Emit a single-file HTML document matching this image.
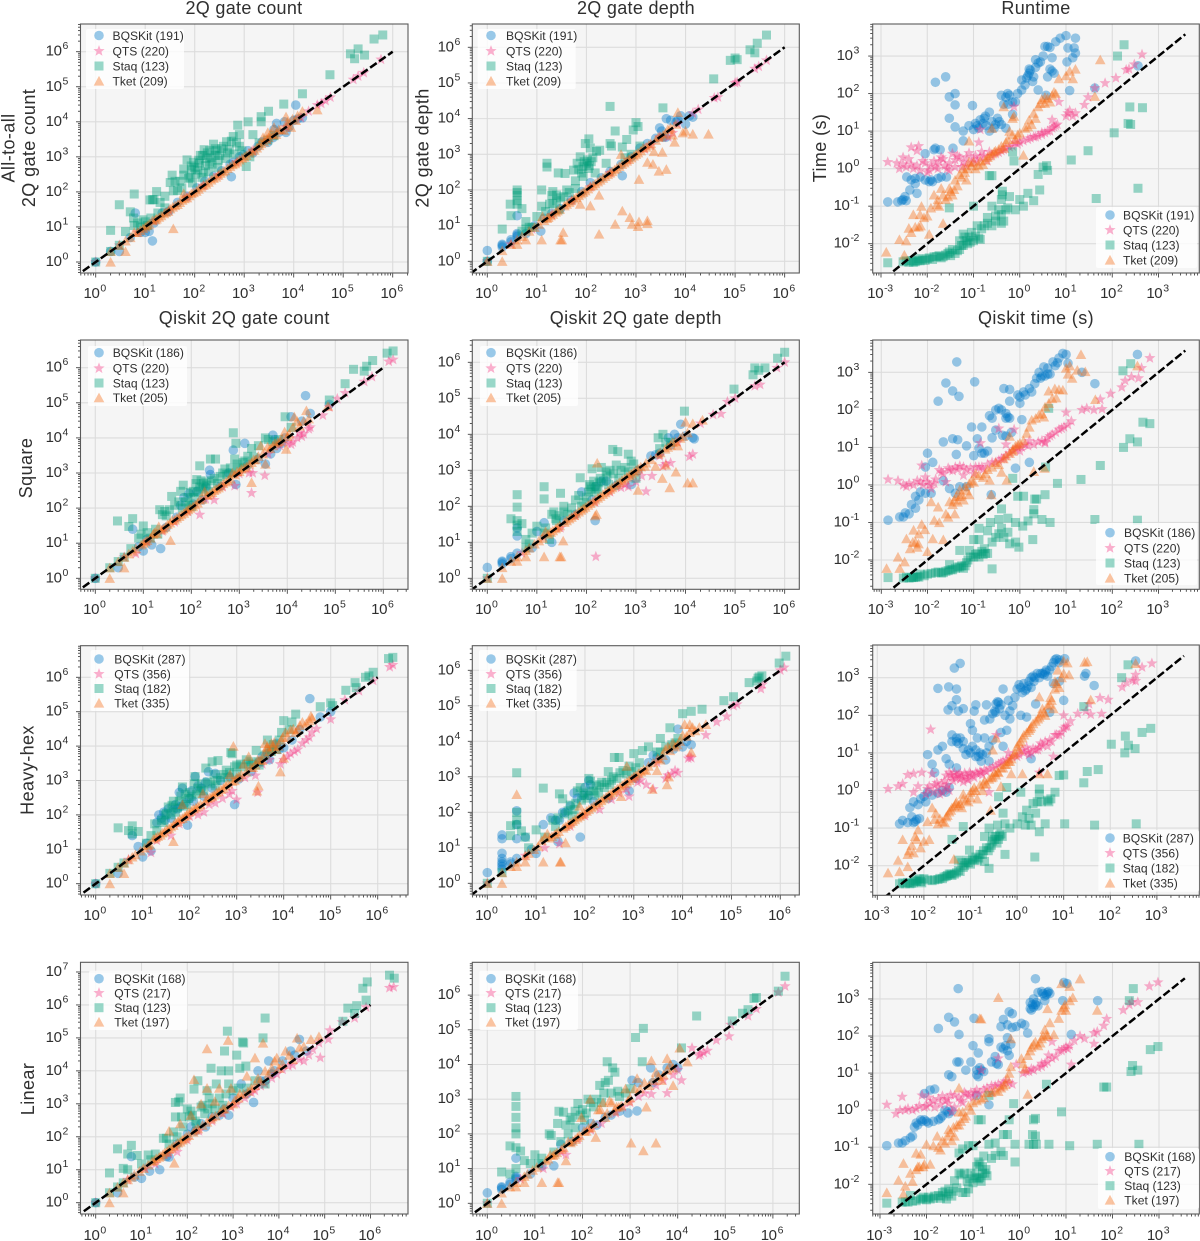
<!DOCTYPE html>
<html lang="en">
<head>
<meta charset="utf-8">
<title>Compiler benchmark scatter grid</title>
<style>
html,body{margin:0;padding:0;background:#fff;}
svg{display:block;font-family:"Liberation Sans",sans-serif;}
</style>
</head>
<body>
<svg id="figure" width="1200" height="1241" viewBox="0 0 1200 1241" xmlns="http://www.w3.org/2000/svg"></svg>
<script>
const seriesNames = ["BQSKit","QTS","Staq","Tket"];
const countExps = [0,1,2,3,4,5,6];
const countExpsY7 = [0,1,2,3,4,5,6,7];
const timeXExps = [-3,-2,-1,0,1,2,3];
const timeYExps = [-2,-1,0,1,2,3];
const legendAll = [191,220,123,209];
const legendSquare = [186,220,123,205];
const legendHex = [287,356,182,335];
const legendLinear = [168,217,123,197];

/* ---------- All-to-all 2Q gate count ---------- */
const allCountBq = [[1,1],[2,2],[3,2],[5,5],[6.3,25],[8,7],[10,7],[12,7.5],[14,4],[15,13],[22,25],[30,28],[45,50],[70,75],[110,130],[160,200],[240,280],[350,400],[550,270],[520,620],[800,1000],[1200,1500],[1900,2000],[3000,2600],[4500,9000],[5000,5000],[6500,10000],[8000,7000],[10000,11000],[11000,30000],[15000,13000],[600,700],[950,1150],[1500,1300],[2300,2700],[3800,3500],[4000,6000],[7000,5000],[12000,12000]];
const allCountQts = [[1,1],[3,3],[7,7],[15,15],[30,30],[70,70],[150,150],[300,300],[700,700],[1500,1500],[3000,3000],[7000,7000],[14000,13000],[20000,20000],[30000,30000],[36000,33000],[44000,40000],[55000,50000],[160000,160000],[200000,200000],[260000,250000],[580000,600000]];
const allCountStaq = [[1,1],[2,2],[2,8],[3,3],[3,43],[4,7.4],[5,27],[5.8,18],[6,87],[6,11],[8,10],[9,16],[10,14],[12.5,59],[14,60],[17,102],[20,50],[25,75],[32,185],[35,300],[37,107],[45,110],[50,200],[60,450],[70,820],[87,430],[60,300],[80,260],[100,500],[120,800],[130,1100],[155,1600],[170,900],[200,700],[240,2300],[260,1100],[300,800],[350,1700],[440,2700],[500,1600],[600,3800],[700,2500],[740,8000],[800,4300],[900,1500],[1100,530],[1200,10000],[1500,4300],[2200,14000],[2200,10000],[3100,20000],[6300,32000],[15000,63000],[54000,220000],[140000,870000],[170000,630000],[200000,1200000],[270000,800000],[420000,2300000],[630000,3000000],[40,200],[55,130],[75,240],[85,550],[90,180],[105,320],[115,420],[125,650],[140,260],[145,1100],[165,560],[180,1300],[190,380],[215,950],[225,620],[280,1500],[290,500],[320,1100],[380,2000],[420,900],[460,1300],[550,2800],[620,1200],[800,2000],[15,60],[25,35],[18,25],[7,13],[11,11],[13,18],[1300,1000],[2000,2500],[3000,3000],[4000,4000],[150,350],[95,700],[200,1500],[260,1700]];
const allCountTket = [[2,1],[2,2],[3,3],[4,2],[4,4],[5,5],[6,7],[7,7],[9,9],[11,11],[14,15],[17,17],[21,21],[26,26],[32,33],[37,9],[40,41],[50,50],[60,90],[62,64],[78,78],[95,96],[120,120],[150,155],[190,190],[240,245],[300,300],[370,375],[460,470],[580,600],[720,720],[900,920],[1100,1100],[1400,1450],[1800,1800],[2200,2400],[2800,3200],[3500,4500],[4400,4400],[5500,6000],[7000,14000],[7500,8000],[8800,7000],[11000,11000],[15000,20000],[30000,22000],[8,8],[10,10],[12,12],[16,16],[19,19],[24,24],[29,28],[36,37],[45,44],[56,58],[70,68],[86,90],[108,105],[135,138],[170,168],[215,220],[270,265],[330,340],[410,405],[520,530],[650,640],[800,820],[1000,990],[1250,1300],[1600,1550],[2000,2100],[2500,2700],[3100,3600],[3900,4200],[5000,6000],[6300,5800],[7500,10000],[9500,12000],[12000,15000],[3000,5000],[4000,7000],[2400,3600]];

/* ---------- All-to-all 2Q gate depth ---------- */
const allDepthBq = [[1,2],[1,1],[2,3],[2,2.5],[3,4],[4,6],[4,19],[4,5],[6,6],[9,10],[12,7],[14,16],[20,22],[30,30],[50,52],[80,90],[120,160],[200,220],[300,330],[530,250],[500,520],[800,850],[1200,1500],[1700,2000],[2500,2800],[3300,4500],[4100,10000],[4000,3000],[6500,8000],[8000,12000],[14000,11000],[10000,7000],[2,2.8],[3,3.5],[4,5.5],[3000,5500],[3500,3000],[5000,9000],[7000,9000],[12000,12000]];
const allDepthQts = [[1,1],[3,3],[8,8],[20,20],[50,50],[120,120],[300,300],[700,700],[1500,1400],[3000,3000],[7000,7000],[14000,14000],[18000,18000],[38000,38000],[45000,40000],[100000,100000],[110000,105000],[250000,250000],[300000,290000],[430000,430000],[4500,3000],[5500,4000],[2000,1800]];
const allDepthStaq = [[1,1],[2,8],[2.9,40],[3,19],[4,100],[4,70],[4,50],[4,40],[5,30],[6,13],[7,9],[10,18],[12.5,35],[12.5,100],[16,560],[16,440],[21,90],[21,42],[25,72],[27,300],[30,60],[37,290],[40,100],[55,360],[60,180],[65,560],[75,850],[86,240],[95,2000],[100,560],[110,400],[112,2700],[120,1500],[150,300],[185,1300],[250,560],[300,2000],[300,22000],[320,1700],[380,4500],[530,1600],[650,2600],[880,4800],[1000,7700],[1100,6000],[1200,1700],[3500,20000],[37000,130000],[80000,430000],[100000,500000],[110000,450000],[200000,850000],[250000,700000],[280000,1300000],[430000,2200000],[85,450],[90,620],[105,700],[115,480],[125,620],[70,380],[80,300],[135,800],[160,1200],[60,110],[45,85],[35,65],[25,50],[18,40],[15,25],[28,28],[600,800],[800,1000],[6,8],[8,9],[5,7],[4,85],[20,70]];
const allDepthTket = [[1,1],[2,1],[2,2],[3,3],[4,3],[4,4],[5,5],[6,4],[7,7],[9,9],[11,11],[12.5,4],[13,18],[17,17],[21,21],[26,26],[30,4],[32,4],[34,6.5],[40,40],[50,50],[62,62],[75,40],[78,78],[95,95],[120,36],[120,125],[150,150],[180,72],[180,5.8],[190,190],[240,240],[300,300],[380,11],[370,370],[460,460],[530,26],[500,1000],[580,580],[750,17],[720,720],[830,11],[900,900],[1100,9.5],[1150,13],[1150,200],[1100,1100],[1400,1500],[1700,14],[1700,11.5],[1700,600],[1800,1800],[2200,530],[2300,1200],[2800,3000],[2900,340],[3400,1150],[3500,3500],[4100,380],[4400,5000],[5500,3500],[6000,2200],[7000,15000],[8800,4000],[10000,4500],[14000,3700],[29000,3700],[14,14],[16,16],[19,19],[24,24],[29,29],[36,36],[45,45],[56,56],[70,70],[86,86],[108,108],[135,135],[170,170],[215,215],[270,270],[330,330],[410,410],[520,520],[650,650],[800,800],[1000,1000],[1250,1250],[1600,1600],[2000,2000],[2500,2500],[3100,3100],[3900,3800],[5000,5500],[6300,7000]];

/* ---------- All-to-all runtime ---------- */
const allTimeBq = [[.0014,.13],[.0023,.13],[.003,.15],[.0033,.18],[.0042,.27],[.006,.22],[.0055,.4],[.0036,.6],[.0055,.55],[.009,.5],[.012,.5],[.009,2.5],[.015,3.5],[.019,3.2],[.017,.55],[.026,.6],[.036,3.5],[.015,200],[.025,280],[.03,82],[.04,100],[.04,50],[.03,22],[.04,13],[.06,10],[.1,11],[.095,48],[.06,5.5],[.11,16],[.14,20],[.22,32],[.16,16],[.3,15],[.22,10],[.4,15],[.4,90],[.6,90],[.9,100],[.56,52],[.7,28],[.45,52],[.36,18],[1.1,125],[1.4,260],[1.7,420],[1.1,230],[1.9,210],[2.5,650],[3.2,1000],[5,900],[4,1800],[6,2400],[7.5,3000],[10,3500],[16,3000],[15,1650],[11,1650],[16,1200],[14,900],[10.5,700],[5,400],[4,280],[2.5,125],[3.7,90],[12,120],[42,140],[360,550],[.12,14],[.18,25],[.5,12],[.8,60],[1.6,350],[2.2,500],[.0028,.14],[.0035,.14],[.0045,.5],[.007,.6],[.011,.45],[.02,.6],[.014,3.2],[.013,.45],[.08,14],[.13,12],[.17,22],[.19,14],[.25,18],[.28,12],[.33,22],[.5,80],[.7,60],[.55,100],[1.3,170],[1.5,300],[1.6,450],[2,280],[2.2,800],[2.8,700],[3.5,1800],[4.5,1700],[4.5,450],[5.5,350]];
const allTimeQts = [[.0014,1.5],[.0022,1.4],[.0025,1],[.003,2],[.0035,1.1],[.0045,1.3],[.0045,3.7],[.006,3],[.0065,4],[.005,1],[.007,.9],[.008,1.6],[.01,.8],[.012,1.2],[.014,1.6],[.017,1],[.02,2],[.024,1.2],[.03,1.4],[.035,2.5],[.04,1.1],[.05,2],[.06,1.5],[.08,2.6],[.1,1.8],[.13,5],[.14,2],[.2,1.6],[.25,2.2],[.3,2.5],[.4,3],[.5,3.5],[.7,4],[1,5],[1.5,6],[2,7],[3,8],[4,10],[5,12],[6,14],[5,20],[7,60],[.75,45],[.14,11],[10,25],[12,35],[16,30],[25,50],[30,80],[42,140],[70,190],[120,260],[200,430],[230,450],[300,600],[440,1100],[.03,.9],[.07,1.2],[.15,2.8],[.9,4.5],[2.5,7.5],[3.5,9],[.003,1.3],[.004,1.8],[.006,1.2],[.009,1.4],[.011,.9],[.015,1.1],[.018,1.5],[.022,1.8],[.027,1],[.04,1.7],[.045,2.2],[.055,1.1],[.07,2],[.09,1.4],[.11,2.2],[.12,1.5],[.17,2.2],[.22,2.8],[.35,2.7],[.45,3.2],[.6,3.8],[.8,5],[1.2,5.5],[1.7,6.5],[2.2,7],[3,9],[4.5,10],[5.5,13],[6.5,15],[11,30],[14,25]];
const allTimeStaq = [[.0014,.0031],[.003,.0033],[.004,.0032],[.005,.0032],[.006,.0035],[.007,.0035],[.008,.0037],[.01,.004],[.013,.0038],[.016,.0045],[.02,.0042],[.025,.005],[.03,.006],[.04,.0055],[.05,.007],[.06,.009],[.07,.012],[.05,.012],[.06,.018],[.08,.015],[.1,.012],[.13,.014],[.15,.025],[.12,.03],[.09,.02],[.2,.035],[.25,.03],[.3,.04],[.4,.035],[.1,.1],[.03,.09],[.2,.05],[.25,.1],[.35,.08],[.4,.15],[.42,.25],[.5,.08],[.8,.08],[1,.15],[1.2,.1],[1.5,.22],[2,.14],[2.7,.27],[.22,.65],[.25,.65],[.6,.18],[.7,2.8],[.75,1.6],[2.5,.7],[3.2,1.1],[3.8,1.2],[4,.9],[13,1.7],[30,3],[110,9],[220,16],[250,15],[240,44],[450,42],[45,.16],[360,.3],[130,1000],[180,2000],[.0035,.0035],[.0045,.0035],[.0055,.0033],[.0065,.004],[.009,.0036],[.011,.0042],[.014,.0045],[.018,.0048],[.022,.0045],[.028,.0055],[.032,.0048],[.035,.007],[.045,.0065],[.055,.009],[.065,.015],[.075,.01],[.085,.011],[.11,.016],[.14,.013],[.17,.03],[.3,.055],[.45,.04],[.4,.06],[.55,.09],[.42,.2]];
const allTimeTket = [[.0013,.006],[.0025,.013],[.0032,.005],[.0035,.012],[.004,.026],[.0055,.028],[.005,.06],[.007,.06],[.0072,.03],[.0075,.1],[.01,.055],[.011,.018],[.022,.035],[.014,.2],[.017,.15],[.012,.09],[.018,.1],[.02,.3],[.025,.15],[.03,.3],[.035,.2],[.04,.5],[.05,.7],[.06,1],[.07,.5],[.08,1.5],[.1,1.5],[.13,1.2],[.16,1.3],[.2,2],[.25,2.5],[.3,3],[.4,4],[.5,5],[.6,10],[.7,8],[.9,8],[.7,22],[1.2,2.3],[1.3,12],[1.8,15],[2,30],[2.5,45],[3,70],[4,75],[5,90],[6,100],[7,250],[10,300],[12,400],[14,250],[16,450],[42,85],[55,800],[.45,45],[.75,25],[.25,12],[.08,5.5],[1.6,20],[3.5,55],[.0045,.02],[.0065,.028],[.0085,.05],[.016,.11],[.022,.2],[.028,.18],[.032,.25],[.038,.28],[.045,.35],[.055,.6],[.065,.8],[.075,1],[.09,1.2],[.11,1],[.14,1.6],[.18,1.7],[.22,2.2],[.28,2.8],[.35,3.3],[.45,3.5],[.55,6],[.8,6],[1,9],[1.5,13],[2.2,22],[2.8,55],[3.5,80],[4.5,60],[5.5,110]];

/* ---------- Square 2Q gate count ---------- */
const sqCountBq = [[1,1],[3,2],[6,25],[8,8],[10,6],[12,13],[15,9],[23,7],[30,28],[50,55],[70,200],[110,130],[170,170],[240,1200],[250,900],[400,420],[750,4500],[850,470],[1300,7000],[1500,1700],[2500,2500],[3500,1800],[5000,12000],[6000,5000],[9000,10000],[12000,40000],[20000,30000],[24000,160000],[30000,50000],[75000,90000],[4500,3500],[5500,9000],[7500,7000],[90,260],[60,120],[130,300],[200,400],[600,1000]];
const sqCountQts = [[1,1],[4,4],[7,5],[12,11],[25,22],[45,40],[85,80],[150,65],[200,180],[300,170],[450,400],[800,430],[1000,950],[1600,1000],[1800,270],[1900,1000],[3400,850],[4000,3500],[7000,6000],[10000,7000],[13000,7500],[18000,14000],[22000,13000],[30000,20000],[55000,44000],[75000,75000],[110000,130000],[160000,190000],[400000,400000],[580000,550000],[1300000,1500000],[1600000,1700000],[12000,6500],[20000,11000],[28000,18000],[16000,10000]];
const sqCountStaq = [[1,1],[2,2],[2.9,43],[3,3],[4,4],[5,30],[5.5,7],[6,50],[8,14],[9,18],[10,31],[14,14],[20,18],[22,90],[25,65],[30,60],[39,215],[45,120],[60,300],[68,450],[75,150],[95,280],[100,110],[130,650],[150,1600],[150,400],[200,550],[250,2500],[300,700],[320,2500],[450,1000],[500,1300],[750,14000],[800,2500],[850,7000],[1000,1400],[1500,3000],[1800,5000],[3500,10000],[5000,8000],[9000,40000],[12000,20000],[75000,120000],[160000,350000],[240000,900000],[400000,800000],[450000,1100000],[600000,1600000],[1200000,2600000],[1600000,3000000],[55,150],[65,100],[85,200],[90,120],[110,300],[115,200],[125,500],[140,280],[160,600],[170,350],[180,500],[210,450],[230,300],[260,600],[350,500],[400,800],[550,900],[650,1400],[700,1000],[900,1800],[1200,2000],[1300,2200],[2000,2800],[2500,6000],[4000,9000],[6500,9000],[35,90],[28,80],[18,25],[12,20]];
const sqCountTket = [[2,1],[2,2],[3,3],[4,2],[4,4],[5,5],[6,6],[7,7],[9,9],[11,11],[14,14],[17,20],[21,30],[26,26],[32,34],[37,12],[40,45],[50,52],[62,65],[78,82],[95,100],[120,125],[150,170],[190,300],[240,250],[300,320],[370,380],[460,500],[580,600],[720,1000],[900,1100],[1100,1300],[1400,1500],[1800,540],[1800,2000],[2200,2400],[2800,6000],[3500,1800],[4400,5000],[5500,7000],[7000,8000],[8800,15000],[9500,4800],[11000,13000],[14000,40000],[18000,22000],[25000,60000],[28000,35000],[70000,80000],[10,10],[12,12],[16,18],[19,19],[24,24],[29,29],[36,38],[45,46],[56,58],[70,72],[86,90],[108,110],[135,140],[170,180],[215,230],[270,280],[330,350],[410,430],[520,560],[650,680],[800,900],[1000,1100],[1250,1400],[1600,1800],[2000,2400],[2500,3000],[3100,3500],[3900,5500],[5000,6000],[6300,7500],[7800,9500],[10000,11000],[13000,20000],[16000,30000],[22000,30000]];

/* ---------- Square 2Q gate depth ---------- */
const sqDepthBq = [[1,2],[2,3],[2,2.5],[3,4],[4,15],[4,5],[4,25],[8,7],[10,20],[14,35],[20,10],[35,40],[60,60],[80,250],[150,40],[130,150],[200,500],[400,380],[800,400],[1100,1000],[2000,2500],[3000,3000],[4500,8000],[6000,10000],[8000,19000],[10000,9000],[14000,8000],[15000,7500],[2,2.8],[3,3.5],[2500,2700],[5000,5000],[7000,8000],[150,350],[250,500]];
const sqDepthQts = [[1,1],[5,5],[14,14],[30,25],[60,55],[155,4],[150,130],[300,250],[500,330],[800,700],[1000,480],[1600,260],[2100,700],[3000,2500],[5000,1600],[7000,6000],[12000,2400],[14000,2800],[20000,20000],[36000,35000],[52000,37000],[70000,80000],[100000,100000],[250000,220000],[320000,240000],[700000,700000],[1000000,1000000],[600,400],[700,350],[1300,700],[4000,1500],[3500,1300]];
const sqDepthStaq = [[1,1],[3,45],[4,210],[4,95],[4,40],[4,30],[4,20],[5,33],[6,12],[8,18],[10,28],[14,350],[14,160],[14,18],[22,70],[25,40],[30,230],[35,100],[42,60],[70,200],[75,620],[80,100],[100,180],[120,350],[130,1100],[180,450],[200,1200],[260,700],[300,1000],[340,3800],[430,3300],[500,1000],[700,2800],[900,1500],[1000,600],[2800,8000],[3500,10000],[5000,6000],[9500,44000],[95000,180000],[230000,450000],[250000,700000],[300000,600000],[400000,700000],[720000,1300000],[1000000,1900000],[20,60],[24,45],[28,55],[35,70],[50,90],[60,150],[90,130],[110,250],[115,400],[125,300],[140,500],[150,250],[160,350],[170,300],[190,600],[220,500],[250,900],[280,400],[350,800],[400,1400],[450,600],[600,1200],[700,900],[800,1800],[3000,4000],[4000,6000],[15,25],[18,12],[7,9],[6,7]];
const sqDepthTket = [[1,1],[2,1],[2,2],[3,3],[4,3],[4,4],[6,4],[6,6],[7,7],[9,9],[11,11],[14,4],[15,20],[17,17],[21,21],[26,26],[29,4],[31,4],[34,11],[40,40],[50,50],[62,62],[78,78],[95,95],[120,120],[160,60],[150,55],[150,150],[165,1600],[190,190],[240,240],[300,300],[370,370],[460,460],[580,580],[720,720],[900,900],[1100,280],[1100,1100],[1500,1300],[2500,1300],[3400,600],[4800,330],[6400,900],[4000,1400],[2800,2800],[4400,4400],[5500,6000],[7000,4800],[8800,8800],[10000,22000],[11000,450],[14000,450],[14000,20000],[22000,25000],[13,13],[19,19],[24,24],[29,29],[36,36],[45,45],[56,56],[70,70],[86,86],[108,108],[135,135],[170,170],[215,215],[270,270],[330,330],[410,410],[520,520],[650,650],[800,800],[1000,1000],[1250,1250],[1600,1600],[2000,2000],[3100,3100],[3900,3900],[5000,5000],[6300,6300],[7800,7800],[11000,11000]];

/* ---------- Square runtime ---------- */
const sqTimeBq = [[.0014,.115],[.0025,.14],[.0033,.18],[.0055,.24],[.0045,.3],[.0055,.5],[.009,.6],[.012,.6],[.017,170],[.025,520],[.035,320],[.048,230],[.043,1900],[.105,560],[.013,4],[.009,3],[.01,7],[.022,14],[.035,17],[.045,16],[.042,6.5],[.07,11],[.12,17],[.09,35],[.15,35],[.22,70],[.3,100],[.4,100],[.55,65],[.6,170],[.45,370],[.6,350],[.9,250],[1,150],[1.1,55],[1.6,370],[2.1,500],[2.6,1000],[3.3,1400],[4.5,900],[5.2,1900],[7,2400],[8.5,3200],[10,3000],[11,1750],[22,1000],[42,500],[350,3000],[.3,29],[.42,21],[.17,7],[.13,9.5],[.07,.9],[.04,.6],[.022,1.3],[.8,2.8],[1.6,4],[.24,.55],[.5,80],[1.2,300],[3,800],[.003,.14],[.004,.17],[.0065,.4],[.007,.65],[.03,.8],[.05,.9],[.1,6],[.15,7],[.2,8],[.25,60],[.35,110],[.5,60],[.6,60],[1,220],[1.3,250],[1.8,300],[2.3,700],[2.8,700],[3.5,800],[4,900],[4,1300],[5.8,1500],[6.5,1800],[.25,18],[.5,20],[.65,25]];
const sqTimeQts = [[.0014,1.4],[.0023,1.3],[.003,1],[.004,1.1],[.006,1.3],[.0075,3.3],[.008,1],[.01,1.2],[.012,.8],[.015,1.4],[.02,2.2],[.025,1.2],[.03,2.5],[.04,3],[.05,3.2],[.07,2.5],[.1,2],[.13,3],[.2,3.5],[.3,4],[.4,5],[.5,6],[.7,8],[1,8],[1.3,12],[2,12],[3,15],[4,18],[5,22],[7,30],[9,35],[13,50],[10,85],[22,100],[28,110],[40,100],[60,105],[55,190],[92,270],[160,400],[190,600],[260,750],[370,700],[430,1300],[650,2400],[.35,32],[.75,30],[.14,13],[.5,12],[.06,1.8],[.16,2.6],[.9,10],[1.6,15],[3.5,13],[.0035,.9],[.005,1],[.007,1.2],[.009,1.6],[.011,1],[.014,1.1],[.018,2.5],[.022,2],[.028,2.8],[.035,2.4],[.045,2.6],[.06,3],[.085,2.8],[.11,3],[.15,3],[.25,4],[.35,4.5],[.45,5],[.6,7],[.8,9],[1.1,10],[1.5,11],[2.5,14],[3.5,14],[4.5,20],[6,25],[8,32],[11,40]];
const sqTimeStaq = [[.0014,.0034],[.003,.0033],[.004,.0033],[.005,.0034],[.006,.0036],[.007,.0042],[.01,.0042],[.015,.0046],[.02,.0045],[.025,.005],[.03,.0075],[.035,.0055],[.05,.0065],[.06,.006],[.07,.0085],[.05,.018],[.08,.018],[.1,.012],[.12,.015],[.15,.017],[.2,.015],[.1,.035],[.13,.035],[.17,.02],[.25,.0058],[.13,.07],[.2,.06],[.23,.1],[.35,.12],[.4,.07],[.45,.04],[.3,.04],[.55,.055],[.6,.027],[.8,.03],[.95,.022],[.55,.13],[.8,.1],[1.15,.08],[1.5,.11],[2,.17],[2,.22],[2.1,.42],[2.3,.42],[1.9,.035],[.9,.5],[1.2,.5],[.4,.23],[.7,1.5],[3,.12],[3.5,.55],[4.5,.1],[6.5,1.1],[3.6,3],[4.2,110],[21,1.4],[55,3.3],[42,.12],[350,.115],[175,10],[240,17],[350,14],[460,47],[650,43],[170,1100],[250,1700],[.0035,.0035],[.0045,.0034],[.0055,.0035],[.0065,.0035],[.0085,.0038],[.012,.0044],[.017,.0048],[.022,.0046],[.028,.0052],[.032,.0055],[.04,.006],[.045,.0065],[.055,.007],[.065,.007],[.075,.01],[.085,.012],[.11,.014],[.13,.012],[.16,.014],[.18,.015],[.25,.03],[.35,.05]];
const sqTimeTket = [[.0013,.006],[.0023,.012],[.0025,.006],[.0032,.009],[.0035,.037],[.0042,.02],[.005,.063],[.0055,.03],[.0075,.09],[.0088,.065],[.0064,.027],[.013,.037],[.01,.017],[.022,.035],[.012,.36],[.017,.26],[.014,.115],[.018,.1],[.025,.17],[.039,.17],[.03,.36],[.042,.5],[.06,.4],[.08,.55],[.05,.75],[.08,1.1],[.11,2],[.16,1.6],[.22,1.35],[.3,4],[.44,5],[.6,7],[.8,11],[.4,2.2],[.52,1.35],[1,13],[1.4,24],[1.8,54],[2.6,75],[3.3,65],[3.4,2.8],[2,2.3],[4.2,150],[6.1,210],[8.5,340],[5.7,370],[10,1300],[13.5,700],[21,3000],[17.5,1150],[26,1050],[43,190],[350,1500],[4.2,320],[.24,.55],[.6,20],[.2,2.6],[.7,9],[.0048,.03],[.006,.022],[.0065,.05],[.028,.14],[.035,.3],[.038,.4],[.045,.35],[.05,.5],[.055,.55],[.065,.9],[.07,.7],[.09,1.3],[.1,1.2],[.13,1.8],[.18,2],[.25,3],[.35,3.5],[.5,6],[.7,8],[.9,12],[1.2,15],[1.6,35],[2.2,60],[3,80],[3.5,120],[5,200],[7,350],[11,900],[12,1500]];

/* ---------- Heavy-hex 2Q gate count ---------- */
const hexCountBq = [[1,1],[3,2],[6,25],[8,12],[10,6],[12,15],[15,9],[20,60],[22,100],[28,120],[35,150],[40,80],[60,450],[70,600],[90,50],[120,250],[130,1300],[200,350],[250,1800],[300,600],[450,1000],[700,1300],[900,200],[1100,1100],[2000,1800],[3000,3500],[5000,4000],[7000,12000],[10000,9000],[15000,15000],[22000,30000],[36000,240000],[60000,70000],[100000,100000],[25,80],[30,70],[45,140],[50,200],[55,150],[65,180],[80,220],[100,300],[110,500],[150,700],[180,600],[220,900],[350,1600],[3500,5000],[4500,6000],[8000,8000]];
const hexCountQts = [[1,1],[5,5],[15,8],[20,18],[40,25],[60,55],[100,90],[200,120],[260,200],[500,300],[800,500],[1000,280],[1500,1200],[2500,1400],[2800,450],[3500,3000],[5000,4000],[8500,3000],[10000,4000],[14000,6000],[20000,8000],[30000,15000],[40000,25000],[50000,32000],[100000,60000],[200000,220000],[400000,400000],[800000,800000],[1800000,2000000],[2100000,2300000],[12000,5000],[17000,7000],[25000,12000],[35000,18000],[150,100],[350,220],[700,400]];
const hexCountStaq = [[1,1],[2,2],[3,3],[3,42],[4,4],[5,35],[6,48],[6,28],[8,33],[12,15],[15,25],[18,55],[20,35],[25,70],[30,100],[35,170],[45,250],[50,120],[65,350],[70,650],[85,200],[100,450],[130,1300],[150,600],[180,800],[220,2300],[300,3500],[330,1500],[400,3800],[450,1200],[600,2000],[750,6500],[800,6000],[900,2500],[1200,3000],[1800,3000],[2600,7500],[3000,2800],[4500,15000],[5500,7000],[9000,25000],[10000,55000],[18000,85000],[60000,140000],[100000,180000],[110000,150000],[210000,420000],[330000,700000],[350000,500000],[550000,1000000],[650000,1100000],[800000,1400000],[1700000,3500000],[2100000,3800000],[28,60],[32,110],[40,100],[42,190],[55,160],[60,250],[75,180],[80,400],[95,300],[110,350],[125,800],[140,400],[170,500],[200,500],[240,900],[280,800],[350,700],[380,1000],[520,1500],[650,1200],[700,1700],[1000,1500],[1000,2800],[1400,2500],[1600,4000],[2000,3500],[2200,3000],[3000,3500],[4000,5500],[5000,8000],[6000,11000],[7000,8000],[8000,15000],[13000,30000],[15000,50000]];
const hexCountTket = [[2,1],[2,2],[3,3],[4,2],[4,4],[5,5],[6,6],[7,7],[9,9],[11,11],[14,14],[17,20],[21,24],[26,30],[32,38],[40,45],[45,17],[50,60],[62,75],[70,200],[78,90],[95,120],[120,150],[150,180],[190,420],[240,300],[300,350],[370,450],[460,550],[580,700],[720,1500],[850,10000],[900,1000],[1100,1300],[1400,3000],[1800,5000],[2200,2400],[2700,500],[2800,4000],[2900,700],[3500,3800],[4400,9000],[5500,12000],[7000,8000],[8500,1800],[8800,15000],[10000,4500],[11000,25000],[14000,30000],[18000,25000],[22000,40000],[30000,45000],[38000,75000],[40000,65000],[13,13],[19,22],[24,26],[29,32],[36,40],[45,50],[56,65],[70,80],[86,100],[108,130],[135,160],[170,200],[215,250],[270,320],[330,380],[410,480],[520,600],[650,800],[800,950],[1000,1200],[1250,1500],[1600,1800],[2000,2400],[2500,2800],[3100,4000],[3900,6000],[4500,10000],[5000,7000],[6300,13000],[7800,10000],[9500,18000],[12000,18000],[16000,32000],[20000,30000],[25000,50000],[35000,55000],[4000,12000],[6000,10000]];

/* ---------- Heavy-hex 2Q gate depth ---------- */
const hexDepthBq = [[1,2],[2,3],[2,4],[2,7],[2,18],[2,23],[3,4],[4,110],[4,45],[4,18],[4,5],[6,20],[8,9],[10,7],[14,45],[20,70],[25,60],[28,15],[40,100],[60,350],[80,20],[90,300],[120,800],[120,300],[150,200],[300,250],[800,400],[1100,900],[2000,2500],[2500,4000],[4500,3000],[6500,6000],[8000,22000],[10000,7000],[15000,8000],[2,2.5],[2,3.5],[2,5],[3,3.5],[30,60],[35,100],[50,150],[70,250],[100,500],[130,600],[3000,3500],[12000,10000]];
const hexDepthQts = [[1,1],[6,6],[15,10],[30,13],[50,40],[100,80],[200,120],[350,230],[800,280],[1000,900],[1400,800],[2500,450],[3000,2500],[4500,900],[6000,1200],[8000,1300],[13000,3300],[15000,3400],[30000,15000],[50000,35000],[80000,50000],[110000,100000],[130000,110000],[400000,300000],[430000,400000],[1000000,1000000],[1200000,1200000],[500,350],[700,450],[1200,700],[1800,600],[5000,1100],[7000,1500],[14000,3700]];
const hexDepthStaq = [[1,1],[2,2],[3,42],[3,22],[4,1300],[4,100],[4,60],[4,45],[5,30],[6,20],[7,10],[10,32],[14,480],[15,20],[22,60],[30,330],[35,240],[38,90],[50,160],[60,120],[80,500],[100,300],[120,900],[150,400],[200,600],[300,1400],[350,800],[400,3500],[500,3500],[600,1500],[1000,4500],[1300,2500],[1500,5500],[2000,7000],[3000,5000],[3500,12000],[5500,24000],[8000,12000],[10000,60000],[15000,70000],[25000,80000],[70000,140000],[110000,180000],[230000,450000],[330000,500000],[370000,650000],[420000,700000],[950000,1600000],[1300000,2500000],[25,40],[28,70],[45,110],[55,80],[65,180],[70,400],[85,220],[95,350],[110,250],[125,400],[130,750],[160,300],[170,550],[190,350],[220,700],[250,500],[280,700],[320,600],[380,1000],[450,900],[520,1300],[700,1200],[800,2000],[900,1400],[1100,1800],[3500,5000],[4500,7000],[6000,8000],[7000,9000],[350000,600000]];
const hexDepthTket = [[1,1],[2,1],[2,2],[3,3],[4,320],[4,3],[4,4],[6,4],[6,6],[7,7],[9,9],[11,11],[14,4],[15,20],[17,25],[21,21],[26,26],[31,4],[32,4],[40,14],[40,40],[50,50],[62,62],[78,150],[78,78],[95,95],[120,120],[150,150],[190,190],[240,240],[300,300],[370,370],[460,460],[550,280],[580,580],[720,2000],[720,720],[900,900],[1100,1100],[1400,1400],[1800,1500],[2400,450],[3000,1500],[3500,3000],[4400,6000],[4800,600],[5200,1000],[5500,5500],[7000,7000],[8800,10000],[11000,30000],[14000,30000],[15000,5000],[18000,20000],[30000,30000],[13,16],[19,19],[24,24],[29,29],[36,36],[45,45],[56,56],[70,70],[86,86],[108,108],[135,135],[170,170],[215,215],[270,270],[330,330],[410,410],[520,520],[650,650],[800,800],[1000,1000],[1250,1250],[1600,1600],[2000,2000],[2500,2500],[3100,3300],[3900,4000],[5000,7000],[6300,9000],[7800,8000],[10000,15000],[12000,14000],[14000,18000],[16000,25000],[22000,25000]];

/* ---------- Heavy-hex runtime ---------- */
const hexTimeBq = [[.003,.13],[.0035,.16],[.0045,.14],[.0055,.2],[.006,.14],[.007,.17],[.008,.18],[.005,.35],[.006,.5],[.0075,.42],[.01,.7],[.012,.9],[.015,.75],[.02,.85],[.03,.9],[.012,9],[.015,5],[.017,3],[.02,12],[.025,15],[.03,7],[.035,5],[.04,30],[.05,20],[.06,25],[.07,13],[.08,9],[.1,10],[.13,12],[.15,8],[.17,6],[.1,60],[.11,40],[.14,25],[.2,25],[.25,15],[.3,22],[.45,35],[.6,40],[.5,15],[.02,520],[.034,570],[.045,1800],[.06,2400],[.05,500],[.05,260],[.033,140],[.04,180],[.055,130],[.07,150],[.12,130],[.13,190],[.22,190],[.2,75],[.26,80],[.33,130],[.4,220],[.45,190],[.55,100],[.65,250],[.8,180],[.5,500],[.7,80],[1.1,650],[1.3,400],[1.5,450],[1.7,600],[1.2,100],[1.6,90],[2,1000],[2.3,800],[2.7,1300],[3.5,1300],[4,1400],[4.5,1100],[5.5,2000],[6.5,3000],[8,2500],[10.5,3200],[2.5,200],[5,120],[6,700],[8,800],[10,250],[28,1100],[30,1300],[45,620],[350,2800],[2,7],[.05,4],[.09,12],[.18,9],[.35,200],[1,500],[1.8,800],[.0065,.15],[.0085,.6],[.011,.5],[.025,1],[.035,1.2],[.04,20],[.05,25],[.055,18],[.07,20],[.11,15],[.13,8],[.16,10],[.22,10],[.25,6],[.3,110],[.35,120],[.38,230],[.42,150],[.7,130],[.9,300],[1.2,550],[1.4,700],[1.6,500],[2,550],[2.2,1100],[2.4,1000],[3,1000],[3.2,1300],[3.8,1200],[4.2,1600],[5,1600],[6,2500],[7,3200],[8,3000]];
const hexTimeQts = [[.0017,1.1],[.0028,1.3],[.0035,1.5],[.0045,2.6],[.006,.9],[.006,2.8],[.0075,1.3],[.009,3],[.011,.8],[.014,42],[.015,2.8],[.017,1.4],[.02,1.2],[.025,.9],[.03,1.2],[.035,3],[.04,2.2],[.05,2.5],[.06,2],[.07,1.7],[.08,2.4],[.1,2.7],[.13,3],[.16,3.2],[.2,3.5],[.25,.9],[.3,4],[.36,30],[.4,5],[.5,6],[.7,7],[1,8],[1.3,12],[1.6,14],[2,10],[2.5,12],[3,14],[4,20],[5,22],[3,3],[6,8],[7,30],[9,35],[10,45],[12,50],[10,100],[14,70],[20,110],[30,130],[38,105],[65,110],[35,200],[60,290],[90,260],[180,560],[220,750],[300,850],[350,1200],[350,820],[480,1900],[780,2400],[.012,1.1],[.022,.8],[.03,2.5],[.045,3],[.06,2.8],[.09,1.9],[.12,2.2],[.18,2.6],[.035,1],[.65,10],[1.8,9],[3.5,16],[.013,1.3],[.016,.9],[.019,1.6],[.024,1.5],[.028,1.8],[.032,1.4],[.038,2.6],[.042,1.8],[.048,2.1],[.055,2.6],[.065,2.3],[.075,2.9],[.085,2],[.095,3],[.11,2.5],[.14,2.8],[.17,3],[.22,3.2],[.26,3.8],[.35,4.5],[.45,5.5],[.6,6.5],[.8,8],[1.1,9],[1.4,10],[1.7,11],[2.2,13],[2.8,12],[3.2,18],[4.5,15],[5.5,20],[6.5,30],[8,30],[11,50]];
const hexTimeStaq = [[.003,.0033],[.004,.0033],[.005,.0033],[.006,.0035],[.007,.0038],[.008,.0045],[.009,.0035],[.01,.0045],[.015,.004],[.02,.0043],[.025,.0045],[.03,.0052],[.035,.006],[.04,.0055],[.05,.0065],[.06,.007],[.07,.009],[.055,.014],[.08,.012],[.1,.011],[.12,.014],[.15,.016],[.18,.02],[.2,.013],[.25,.0085],[.22,.03],[.28,.035],[.3,.045],[.35,.06],[.4,.05],[.45,.07],[.2,.06],[.25,.1],[.38,.12],[.55,.13],[.3,.06],[.07,.11],[.04,.05],[.095,.026],[.55,.02],[.7,.1],[1,.13],[1.3,.2],[1.6,.3],[1.5,.12],[1.8,.18],[2,.12],[2.2,.45],[2.5,.25],[3,.8],[3,.08],[3.3,.5],[2.4,.017],[4,.13],[.4,.68],[.5,.25],[.6,1.2],[1.2,.9],[3,1.1],[2.7,.5],[4.5,.55],[4.8,.5],[6.5,.9],[5.3,.6],[8,2.5],[10,2.6],[10.5,.13],[27,1.6],[32,3.2],[46,.12],[55,3.6],[27,170],[105,17],[175,1000],[210,28],[205,10],[245,16],[340,13],[360,.13],[480,35],[740,45],[240,2200],[.0035,.0035],[.0045,.0036],[.0055,.0034],[.0065,.004],[.0075,.0042],[.0085,.0038],[.012,.0042],[.017,.0042],[.022,.0046],[.027,.005],[.032,.0055],[.038,.006],[.045,.006],[.055,.0075],[.065,.012],[.075,.01],[.085,.014],[.09,.012],[.11,.015],[.13,.017],[.14,.014],[.16,.02],[.19,.025],[.24,.025],[.26,.03],[.33,.05],[.37,.04],[.42,.065],[.48,.06]];
const hexTimeTket = [[.0017,.0065],[.0028,.014],[.003,.007],[.0045,.0095],[.0035,.05],[.0045,.02],[.0055,.035],[.0065,.06],[.0075,.09],[.0085,.03],[.01,.045],[.013,.05],[.015,.35],[.012,.15],[.017,.17],[.018,.25],[.02,.13],[.025,.15],[.03,.2],[.035,.27],[.04,.35],[.05,.5],[.055,.4],[.065,.35],[.09,.5],[.1,.65],[.14,.6],[.044,.015],[.27,.3],[.18,1],[.22,1.5],[.3,2.3],[.4,3],[.5,4],[.6,5],[.75,7],[.9,10],[.45,1.3],[1,15],[1.3,25],[1.6,35],[2,50],[2.5,70],[3,90],[3.5,150],[4,100],[5,200],[6,150],[.75,2.8],[1.3,2.8],[3,2.8],[4.5,2.8],[5.2,300],[6.5,500],[8,550],[6.5,800],[7.5,1600],[10,1300],[12,2500],[13,1200],[10,2800],[28,2600],[32,2700],[38,260],[350,2400],[3,310],[.3,12],[.35,25],[.07,.8],[.12,1.2],[.2,1.8],[.35,2.6],[.7,6],[1.1,18],[1.9,45],[.0048,.025],[.006,.022],[.007,.05],[.022,.18],[.028,.14],[.032,.22],[.038,.3],[.045,.38],[.048,.45],[.06,.45],[.07,.6],[.08,.55],[.1,.9],[.11,1],[.13,1],[.16,1.4],[.19,1.5],[.25,2],[.28,2.2],[.33,3],[.38,3.2],[.45,4],[.55,5],[.65,6],[.85,9],[1.1,12],[1.2,20],[1.4,30],[1.8,40],[2.2,60],[2.8,80],[3.2,110],[3.8,120],[4.5,180],[5.5,250],[7,700],[9,1000]];

/* ---------- Linear 2Q gate count ---------- */
const linCountBq = [[1,1],[3,2],[6,25],[7,6],[10,5.5],[15,9],[25,10],[35,25],[40,24],[60,60],[100,120],[150,150],[250,200],[500,450],[800,450],[1000,1500],[1500,4000],[2800,1100],[2000,2000],[3500,10000],[5000,5000],[6000,20000],[8000,10000],[12000,20000],[18000,40000],[28000,90000],[22000,30000],[40000,40000],[120,200],[200,250],[350,400],[650,700],[4000,5000],[7000,8000]];
const linCountQts = [[1,1],[5,5],[12,11],[20,15],[40,30],[60,35],[100,80],[180,150],[350,300],[600,500],[1200,1000],[2500,2200],[4000,3500],[7000,6000],[12000,11000],[20000,15000],[35000,20000],[45000,30000],[80000,25000],[75000,70000],[120000,90000],[130000,170000],[240000,300000],[450000,400000],[800000,850000],[2600000,3300000],[3200000,3500000],[900,800],[1800,1500],[3000,2500],[5000,4000],[9000,8000],[16000,14000],[28000,22000],[55000,45000]];
const linCountStaq = [[1,1],[2,2],[2,8],[3,3],[3,43],[4,11],[4,4],[5,30],[5,10],[6,55],[8,27],[10,15],[14,28],[16,20],[20,30],[30,90],[35,90],[50,140],[55,1100],[65,1150],[55,400],[70,1500],[75,400],[100,700],[120,600],[140,2800],[170,5000],[200,800],[270,2500],[300,1500],[330,12000],[430,4000],[550,10000],[650,40000],[750,160000],[800,10000],[800,4000],[1200,30000],[1600,75000],[1700,70000],[1400,12000],[1900,14000],[4500,100000],[5000,400000],[5000,4000],[250000,320000],[320000,800000],[450000,550000],[500000,950000],[680000,3200000],[850000,5000000],[800000,1400000],[2600000,8000000],[3300000,6500000],[40,60],[60,100],[80,200],[110,400],[130,450],[150,300],[160,250],[220,900],[240,500],[280,700],[350,1000],[400,700],[500,1500],[600,900],[700,2000],[1000,2500],[1300,3000],[2000,3000],[3000,5000]];
const linCountTket = [[2,1],[2,2],[3,3],[4,2],[4,4],[5,5],[6,6],[7,7],[9,9],[11,11],[14,14],[17,18],[21,22],[26,26],[32,33],[40,150],[40,42],[52,16],[50,52],[62,65],[70,250],[78,80],[95,100],[120,450],[140,5500],[150,160],[200,1000],[270,47000],[270,3000],[350,400],[400,1200],[500,3000],[600,700],[780,85000],[900,3000],[1000,1000],[1400,2000],[2000,7000],[2500,3000],[3000,25000],[4500,70000],[4000,5000],[6000,8000],[8000,20000],[10000,12000],[14000,40000],[20000,22000],[25000,100000],[28000,50000],[50000,90000],[75000,110000],[19,19],[24,24],[29,29],[36,36],[45,45],[56,56],[70,70],[86,88],[108,110],[135,140],[170,175],[215,225],[270,280],[330,350],[410,430],[520,560],[650,700],[800,900],[1100,1300],[1300,1500],[1700,2000],[2100,2400],[3000,3600],[3500,6000],[5000,10000],[7000,12000],[9000,25000],[12000,16000],[17000,30000],[35000,55000]];

/* ---------- Linear 2Q gate depth ---------- */
const linDepthBq = [[1,2],[2,3],[2,2.5],[3,4],[4,20],[4,6],[4,5],[8,7],[14,12],[25,12],[35,50],[60,60],[100,150],[200,180],[400,350],[600,450],[900,400],[1100,3500],[1400,460],[1500,3000],[2700,8000],[3000,3000],[6000,8000],[8000,10000],[10000,8000],[2,2.8],[3,3.5],[4,5.5],[150,200],[300,300],[4000,5000]];
const linDepthQts = [[1,1],[5,5],[15,10],[35,30],[45,25],[80,70],[150,130],[250,200],[500,400],[1000,800],[2000,1500],[2800,1400],[6000,1500],[8000,5000],[12000,3500],[20000,30000],[30000,20000],[42000,25000],[65000,50000],[120000,65000],[130000,140000],[300000,250000],[450000,400000],[1300000,1200000],[1800000,1800000],[700,600],[1500,1200],[3500,2500],[5000,3500],[10000,7000],[28000,18000],[35000,22000]];
const linDepthStaq = [[1,1],[2,8],[3,45],[3,7],[4,1200],[4,620],[4,300],[4,150],[4,100],[4,40],[4,10],[5,32],[6,17],[8,14],[10,25],[14,20],[20,100],[22,90],[30,200],[32,450],[40,420],[45,180],[55,250],[70,150],[80,750],[100,500],[110,250],[130,1000],[170,600],[230,2500],[300,3000],[330,12000],[350,3500],[430,8000],[480,6000],[550,1700],[1300,60000],[1900,110000],[1800,12000],[25000,250000],[12000,30000],[140000,180000],[230000,300000],[300000,380000],[400000,800000],[450000,850000],[1300000,1300000],[1800000,3500000],[50,100],[60,300],[70,450],[90,350],[120,400],[150,800],[200,1000],[250,800],[280,1500],[400,1500],[600,1200],[800,1500],[1000,2000],[25,30],[35,60],[12,14]];
const linDepthTket = [[1,1],[2,1],[2,2],[3,3],[4,3],[4,4],[6,4],[6,6],[7,7],[9,9],[11,11],[14,4],[17,17],[21,25],[26,26],[30,4],[32,4],[40,40],[45,17],[50,60],[62,62],[78,80],[95,300],[120,120],[145,1000],[150,150],[190,80],[240,500],[300,300],[370,900],[460,460],[580,600],[800,2000],[900,900],[1050,55],[1400,4000],[1900,33],[2200,600],[2500,2500],[2800,13000],[3500,55],[4500,3500],[6000,15000],[5000,5000],[8000,2500],[8000,8000],[11000,30000],[16000,12000],[19,19],[24,24],[29,29],[36,36],[56,56],[70,70],[86,90],[108,120],[135,150],[170,200],[215,500],[270,800],[330,400],[410,800],[520,600],[650,650],[1000,1100],[1250,2000],[1600,2000],[2000,3000],[3000,3500],[3500,6000],[4000,4500],[6000,7000],[7000,10000]];

/* ---------- Linear runtime ---------- */
const linTimeBq = [[.0014,.11],[.0025,.13],[.003,.13],[.0035,.15],[.0045,.18],[.005,.2],[.0055,.35],[.006,.45],[.008,.5],[.01,.5],[.011,.45],[.018,.55],[.02,.6],[.025,1],[.03,.8],[.035,.95],[.012,3.5],[.015,3.7],[.009,2.8],[.018,160],[.03,320],[.04,240],[.05,110],[.048,1900],[.105,300],[.03,9],[.035,8],[.05,20],[.07,12],[.09,20],[.12,12],[.13,8],[.15,12],[.1,55],[.13,35],[.22,70],[.22,85],[.25,20],[.3,28],[.35,17],[.4,50],[.5,55],[.4,180],[.45,280],[.55,200],[.6,450],[.7,400],[.55,90],[.7,170],[.85,180],[.65,60],[1.1,220],[1.5,120],[1.3,200],[1.7,550],[1.9,700],[2,1000],[2.5,1500],[3.5,1200],[4,1500],[4.5,1400],[2.2,3500],[2.3,800],[2.5,650],[3.5,900],[8.5,900],[9,2800],[10.5,2600],[13,110],[48,900],[.22,1.4],[.6,30],[.12,2.5],[.0065,.4],[.0075,.55],[.009,.55],[.014,.5],[.022,.7],[.028,.9],[.045,20],[.12,9],[.14,14],[.17,11],[.32,18],[.45,45],[.55,40],[1.7,800],[1.8,500],[2,600],[2.2,700],[3,1600],[3.2,1400],[3.8,1300],[4.2,1600]];
const linTimeQts = [[.0014,1.4],[.0022,.8],[.0027,1],[.003,2.3],[.004,1.1],[.005,1],[.006,1.1],[.008,2.5],[.01,1.3],[.012,1.5],[.015,1.2],[.018,2],[.022,2.4],[.03,1.5],[.035,.9],[.04,1.2],[.05,2.2],[.07,2.7],[.09,3],[.12,3.5],[.15,12],[.2,4],[.3,4.5],[.35,25],[.5,6],[.7,5],[.85,17],[1.2,10],[1.6,11],[2,12],[3,15],[3.5,18],[4.2,30],[5,25],[5,70],[7,40],[9,45],[12,55],[13,17],[15,75],[20,100],[25,85],[40,120],[47,130],[40,62],[65,190],[75,290],[170,500],[230,700],[260,820],[350,820],[620,2200],[950,2800],[.025,1.8],[.06,1.6],[.1,2.2],[.25,3],[.4,4.2],[.0035,1],[.007,1.3],[.009,1.2],[.011,2.2],[.014,1.8],[.02,1.4],[.028,2],[.033,2.6],[.04,2.5],[.055,1.8],[.065,3],[.08,2.4],[.11,3],[.14,2.8],[.17,3.6],[.25,4.5],[.35,5],[.45,5.5],[.6,5.5],[1.4,11],[1.8,13],[2.5,14],[3,18],[4,20],[6,28],[8,40],[10,50],[11,45]];
const linTimeStaq = [[.0014,.0031],[.003,.0033],[.004,.0033],[.005,.0035],[.006,.0036],[.0045,.005],[.008,.004],[.01,.0038],[.012,.004],[.015,.0048],[.02,.0042],[.022,.006],[.027,.004],[.03,.0075],[.035,.0048],[.04,.0125],[.05,.02],[.06,.006],[.07,.006],[.08,.0075],[.09,.02],[.1,.011],[.12,.015],[.15,.012],[.18,.02],[.2,.017],[.14,.035],[.17,.058],[.12,.03],[.05,.07],[.06,.09],[.08,.11],[.1,.11],[.25,.05],[.22,.12],[.3,.13],[.4,.075],[.45,.22],[.55,.22],[.8,.04],[.8,.12],[1.6,.12],[2,.12],[2.3,.12],[1.9,.22],[2.2,.2],[4.3,.12],[12,.11],[47,.12],[370,.12],[.13,.55],[.15,.55],[.6,.55],[2,.55],[2.2,.6],[.75,1.5],[.22,2.5],[3.8,5],[8,.9],[65,4.2],[75,4.2],[250,11],[270,16],[350,12],[230,900],[280,1900],[650,43],[950,52],[.0035,.0034],[.0075,.004],[.0085,.0045],[.011,.0045],[.014,.0042],[.018,.005],[.023,.0048],[.025,.0065],[.03,.0055],[.038,.0065],[.045,.008],[.055,.018],[.065,.02],[.075,.012],[.085,.014],[.11,.017],[.13,.014],[.14,.015],[.16,.02],[.19,.025],[.13,.04],[.16,.03],[.3,.06],[.45,.06]];
const linTimeTket = [[.0014,.006],[.0025,.013],[.0032,.0055],[.0035,.009],[.0032,.037],[.0045,.02],[.005,.012],[.006,.07],[.006,.025],[.007,.03],[.0075,.065],[.009,.035],[.012,.035],[.01,.12],[.014,.11],[.017,.2],[.018,.1],[.02,.085],[.025,.13],[.03,.3],[.035,.15],[.04,.2],[.045,.4],[.05,.4],[.06,.9],[.07,.7],[.08,1.3],[.05,4],[.1,1.6],[.15,2],[.2,3],[.3,3.5],[.4,4],[.5,5],[.6,10],[.65,15],[.35,1100],[.14,300],[.15,290],[1.5,2.7],[.65,85],[1.1,25],[1.3,13],[1.7,40],[2,60],[2.5,55],[3,85],[3.5,150],[4,100],[4.5,230],[5.5,110],[7,300],[8,2600],[9,600],[10,500],[12,2200],[12,900],[14,1100],[20,3500],[47,500],[4,550],[.05,.9],[.0065,.03],[.0085,.03],[.022,.15],[.028,.2],[.033,.25],[.038,.35],[.055,.5],[.065,.6],[.09,1],[.12,1.8],[.17,2.2],[.25,3],[.35,3.2],[.45,4.5],[.55,7],[1.2,18],[1.5,30],[1.8,50],[2.2,70],[2.8,65],[3.2,100],[3.8,110],[8,500],[9.5,700]];

/* Layout of each axes box: frame edges, and where one labelled decade sits with its pixel span. */
const COL1=[80.5,408],COL2=[472.3,799.3],COL3=[872.7,1199.3];
const panels = [
 {id:"all-count",col:COL1,row:[24,273],xRef:[0,95.7,49.5],yRef:[0,262,35.05],xTicks:countExps,yTicks:countExps,line:[.55,1e6],data:[allCountBq,allCountQts,allCountStaq,allCountTket],counts:legendAll,legend:{box:[86,29,184,89],mx:99,tx:112.5,rows:[35.5,51,66,81]},xLabelY:298,xTitle:"Qiskit 2Q gate count",xTitleY:324,labelRight:68},
 {id:"all-depth",col:COL2,row:[24,273],xRef:[0,487.3,49.56],yRef:[0,261.3,35.67],xTicks:countExps,yTicks:countExps,line:[.45,1e6],data:[allDepthBq,allDepthQts,allDepthStaq,allDepthTket],counts:legendAll,legend:{box:[477.7,29,575.7,89],mx:491,tx:506,rows:[35.5,51,66,81]},xLabelY:298,xTitle:"Qiskit 2Q gate depth",xTitleY:324,labelRight:460},
 {id:"all-time",col:COL3,row:[24,273],xRef:[-3,881,46.25],yRef:[-2,243.7,37.53],xTicks:timeXExps,yTicks:timeYExps,line:[.0012,3800],data:[allTimeBq,allTimeQts,allTimeStaq,allTimeTket],counts:legendAll,legend:{box:[1096,207,1197,268],mx:1110,tx:1123,rows:[215,230,245,260]},xLabelY:298,xTitle:"Qiskit time (s)",xTitleY:324,labelRight:859},
 {id:"square-count",col:COL1,row:[340,589.3],xRef:[0,95.3,48],yRef:[0,578.3,35.1],xTicks:countExps,yTicks:countExps,line:[.55,1e6],data:[sqCountBq,sqCountQts,sqCountStaq,sqCountTket],counts:legendSquare,legend:{box:[88,346,187,406],mx:99,tx:112.7,rows:[352.7,368.3,383,397.7]},xLabelY:614,labelRight:68},
 {id:"square-depth",col:COL2,row:[340,589.3],xRef:[0,487.3,49.56],yRef:[0,578.3,36],xTicks:countExps,yTicks:countExps,line:[.45,1e6],data:[sqDepthBq,sqDepthQts,sqDepthStaq,sqDepthTket],counts:legendSquare,legend:{box:[480,346,578,406],mx:491,tx:506,rows:[352.7,368.3,383,397.7]},xLabelY:614,labelRight:460},
 {id:"square-time",col:COL3,row:[340,589.3],xRef:[-3,881.3,46.2],yRef:[-2,560,37.53],xTicks:timeXExps,yTicks:timeYExps,line:[.0012,3800],data:[sqTimeBq,sqTimeQts,sqTimeStaq,sqTimeTket],counts:legendSquare,legend:{box:[1096,523,1197,585],mx:1110,tx:1124,rows:[532.7,548,563,578]},xLabelY:614,labelRight:859},
 {id:"hex-count",col:COL1,row:[645.7,895],xRef:[0,95.7,47],yRef:[0,883.7,34.4],xTicks:countExps,yTicks:countExps,line:[.55,1e6],data:[hexCountBq,hexCountQts,hexCountStaq,hexCountTket],counts:legendHex,legend:{box:[90.7,650,189,711],mx:99,tx:114.3,rows:[659,674,688.5,703]},xLabelY:920,labelRight:68},
 {id:"hex-depth",col:COL2,row:[645.7,895],xRef:[0,487.3,48.83],yRef:[0,883.3,35.5],xTicks:countExps,yTicks:countExps,line:[.45,1e6],data:[hexDepthBq,hexDepthQts,hexDepthStaq,hexDepthTket],counts:legendHex,legend:{box:[479,650,576.7,711],mx:491,tx:505.7,rows:[659,674,688.5,703]},xLabelY:920,labelRight:460},
 {id:"hex-time",col:COL3,row:[645,895.3],xRef:[-3,877.3,46.6],yRef:[-2,865.7,37.6],xTicks:timeXExps,yTicks:timeYExps,line:[.0009,3800],data:[hexTimeBq,hexTimeQts,hexTimeStaq,hexTimeTket],counts:legendHex,legend:{box:[1098.3,830,1199,891.7],mx:1110,tx:1122.7,rows:[838,853,868,883]},xLabelY:920,labelRight:859},
 {id:"linear-count",col:COL1,row:[962.3,1214],xRef:[0,95.7,45.8],yRef:[0,1202.7,32.96],xTicks:countExps,yTicks:countExpsY7,line:[.55,1e6],data:[linCountBq,linCountQts,linCountStaq,linCountTket],counts:legendLinear,legend:{box:[89,970.7,187.3,1030],mx:99,tx:114.3,rows:[978.7,993,1007.7,1022]},xLabelY:1240,labelRight:68},
 {id:"linear-depth",col:COL2,row:[962.3,1214],xRef:[0,487.3,47.6],yRef:[0,1203.3,34.7],xTicks:countExps,yTicks:countExps,line:[.55,1e6],data:[linDepthBq,linDepthQts,linDepthStaq,linDepthTket],counts:legendLinear,legend:{box:[479.3,970.7,578,1030],mx:491,tx:505,rows:[978.7,993,1007.7,1022]},xLabelY:1240,labelRight:68+392},
 {id:"linear-time",col:COL3,row:[962.3,1214],xRef:[-3,880,46.5],yRef:[-2,1184.3,37.07],xTicks:timeXExps,yTicks:timeYExps,line:[.0015,3600],data:[linTimeBq,linTimeQts,linTimeStaq,linTimeTket],counts:legendLinear,legend:{box:[1098,1148,1199,1209],mx:1110,tx:1124.3,rows:[1156.7,1171,1185.7,1200]},xLabelY:1240,labelRight:859}
];
const columnTitles = [["2Q gate count",244],["2Q gate depth",636],["Runtime",1036]];
const rowLabels = [["All-to-all",8.5,148],["2Q gate count",29,148],["2Q gate depth",422.7,148],["Time (s)",820,148],["Square",26,468],["Heavy-hex",27.7,770],["Linear",28,1089]];

const NS = "http://www.w3.org/2000/svg";
const svg = document.getElementById("figure");
const COLORS = ["#0077C8","#F53984","#009D78","#F56B14"];
const ALPHA = 0.4;
const INK = "#2f2f2f";

function mk(tag, attrs, parent){
  const el = document.createElementNS(NS, tag);
  for (const k in attrs) el.setAttribute(k, attrs[k]);
  parent.appendChild(el);
  return el;
}
function starPath(cx, cy, R, r){
  let d = "";
  for (let i = 0; i < 10; i++){
    const rad = i % 2 ? r : R, a = -Math.PI/2 + i*Math.PI/5;
    d += (i ? "L" : "M") + (cx + rad*Math.cos(a)).toFixed(2) + " " + (cy + rad*Math.sin(a)).toFixed(2);
  }
  return d + "Z";
}
function drawMarker(parent, seriesIdx, cx, cy, alpha){
  const style = {fill:COLORS[seriesIdx], "fill-opacity":alpha};
  if (seriesIdx === 0) return mk("circle", {cx:cx, cy:cy, r:4.8, ...style}, parent);
  if (seriesIdx === 1) return mk("path", {d:starPath(cx, cy, 5.9, 2.5), ...style}, parent);
  if (seriesIdx === 2) return mk("rect", {x:cx-4.5, y:cy-4.5, width:9, height:9, ...style}, parent);
  return mk("path", {d:`M${cx-5.3} ${cy+4.6}L${cx} ${cy-5.1}L${cx+5.3} ${cy+4.6}Z`, ...style}, parent);
}
function powerLabel(parent, exp, x, y, anchor){
  const t = mk("text", {x:x, y:y, "text-anchor":anchor, "font-size":15, fill:INK, "letter-spacing":"-0.4"}, parent);
  const base = mk("tspan", {}, t);
  base.textContent = "10";
  const sup = mk("tspan", {dy:-6.5, "font-size":10.5, dx:1}, t);
  sup.textContent = String(exp);
  return t;
}

panels.forEach(function(p, pi){
  const [x0, x1] = p.col, [y0, y1] = p.row;
  const sx = function(v){ return p.xRef[1] + (Math.log10(v) - p.xRef[0]) * p.xRef[2]; };
  const sy = function(v){ return p.yRef[1] - (Math.log10(v) - p.yRef[0]) * p.yRef[2]; };

  const g = mk("g", {}, svg);
  
  

  const clipId = "clip-" + p.id;
  const defs = mk("defs", {}, g);
  const clip = mk("clipPath", {id:clipId}, defs);
  mk("rect", {x:x0, y:y0, width:x1-x0, height:y1-y0}, clip);

  const bg = mk("rect", {x:x0, y:y0, width:x1-x0, height:y1-y0, fill:"#f5f5f5"}, g);
  
  

  const grid = mk("g", {stroke:"#dcdcdc", "stroke-width":1.1}, g);
  
  
  p.xTicks.forEach(function(e){ const X = sx(Math.pow(10,e)); mk("line", {x1:X, x2:X, y1:y0, y2:y1}, grid); });
  p.yTicks.forEach(function(e){ const Y = sy(Math.pow(10,e)); mk("line", {x1:x0, x2:x1, y1:Y, y2:Y}, grid); });

  const marks = mk("g", {"clip-path":`url(#${clipId})`}, g);
  p.data.forEach(function(points, si){
    const sg = mk("g", {}, marks);
    
    
    points.forEach(function(pt){
      const m = drawMarker(sg, si, sx(pt[0]), sy(pt[1]), ALPHA);
      
      
    });
  });

  const diag = mk("line", {x1:sx(p.line[0]), y1:sy(p.line[0]), x2:sx(p.line[1]), y2:sy(p.line[1]), stroke:"#000", "stroke-width":2.5, "stroke-dasharray":"8 3"}, marks);
  
  

  const ticks = mk("g", {stroke:"#444", "stroke-width":0.9}, g);
  
  
  const xFirst = Math.floor((x0 - p.xRef[1]) / p.xRef[2]) + p.xRef[0] - 1;
  const xLast = Math.ceil((x1 - p.xRef[1]) / p.xRef[2]) + p.xRef[0];
  for (let e = xFirst; e <= xLast; e++) for (let m = 1; m < 10; m++){
    const X = sx(m * Math.pow(10,e));
    if (X < x0 || X > x1) continue;
    mk("line", {x1:X, x2:X, y1:y1, y2:y1 + (m === 1 ? 4.5 : 2.5)}, ticks);
  }
  const yFirst = Math.floor((p.yRef[1] - y1) / p.yRef[2]) + p.yRef[0] - 1;
  const yLast = Math.ceil((p.yRef[1] - y0) / p.yRef[2]) + p.yRef[0];
  for (let e = yFirst; e <= yLast; e++) for (let m = 1; m < 10; m++){
    const Y = sy(m * Math.pow(10,e));
    if (Y < y0 || Y > y1) continue;
    mk("line", {x1:x0, x2:x0 - (m === 1 ? 4.5 : 2.5), y1:Y, y2:Y}, ticks);
  }

  const frame = mk("rect", {x:x0, y:y0, width:x1-x0, height:y1-y0, fill:"none", stroke:"#5a5a5a", "stroke-width":1.1}, g);
  
  

  p.xTicks.forEach(function(e){
    const t = powerLabel(g, e, sx(Math.pow(10,e)) - 1, p.xLabelY, "middle");
    
    
  });
  p.yTicks.forEach(function(e){
    const t = powerLabel(g, e, p.labelRight, sy(Math.pow(10,e)) + 4, "end");
    
    
  });

  if (p.xTitle){
    const xt = mk("text", {x:(x0+x1)/2, y:p.xTitleY, "text-anchor":"middle", "font-size":18, "letter-spacing":"0.4", fill:INK}, g);
    xt.textContent = p.xTitle;
    
    
  }

  const lg = mk("g", {}, g);
  
  
  const b = p.legend.box;
  mk("rect", {x:b[0], y:b[1], width:b[2]-b[0], height:b[3]-b[1], rx:2, fill:"#fff", "fill-opacity":0.8}, lg);
  seriesNames.forEach(function(name, si){
    const rowY = p.legend.rows[si];
    const entry = mk("g", {}, lg);
    
    
    drawMarker(entry, si, p.legend.mx, rowY, ALPHA);
    const t = mk("text", {x:p.legend.tx, y:rowY + 4.4, "font-size":12.1, fill:INK}, entry);
    t.textContent = name + " (" + p.counts[si] + ")";
  });
});

columnTitles.forEach(function(c){
  const t = mk("text", {x:c[1], y:14, "text-anchor":"middle", "font-size":18, "letter-spacing":"0.3", fill:INK}, svg);
  t.textContent = c[0];
  
  
});
rowLabels.forEach(function(r){
  const t = mk("text", {x:0, y:0, "text-anchor":"middle", "dominant-baseline":"central", "font-size":18, "letter-spacing":"0.4", fill:INK, transform:`translate(${r[1]} ${r[2]}) rotate(-90)`}, svg);
  t.textContent = r[0];
  
  
});
</script>
</body>
</html>
